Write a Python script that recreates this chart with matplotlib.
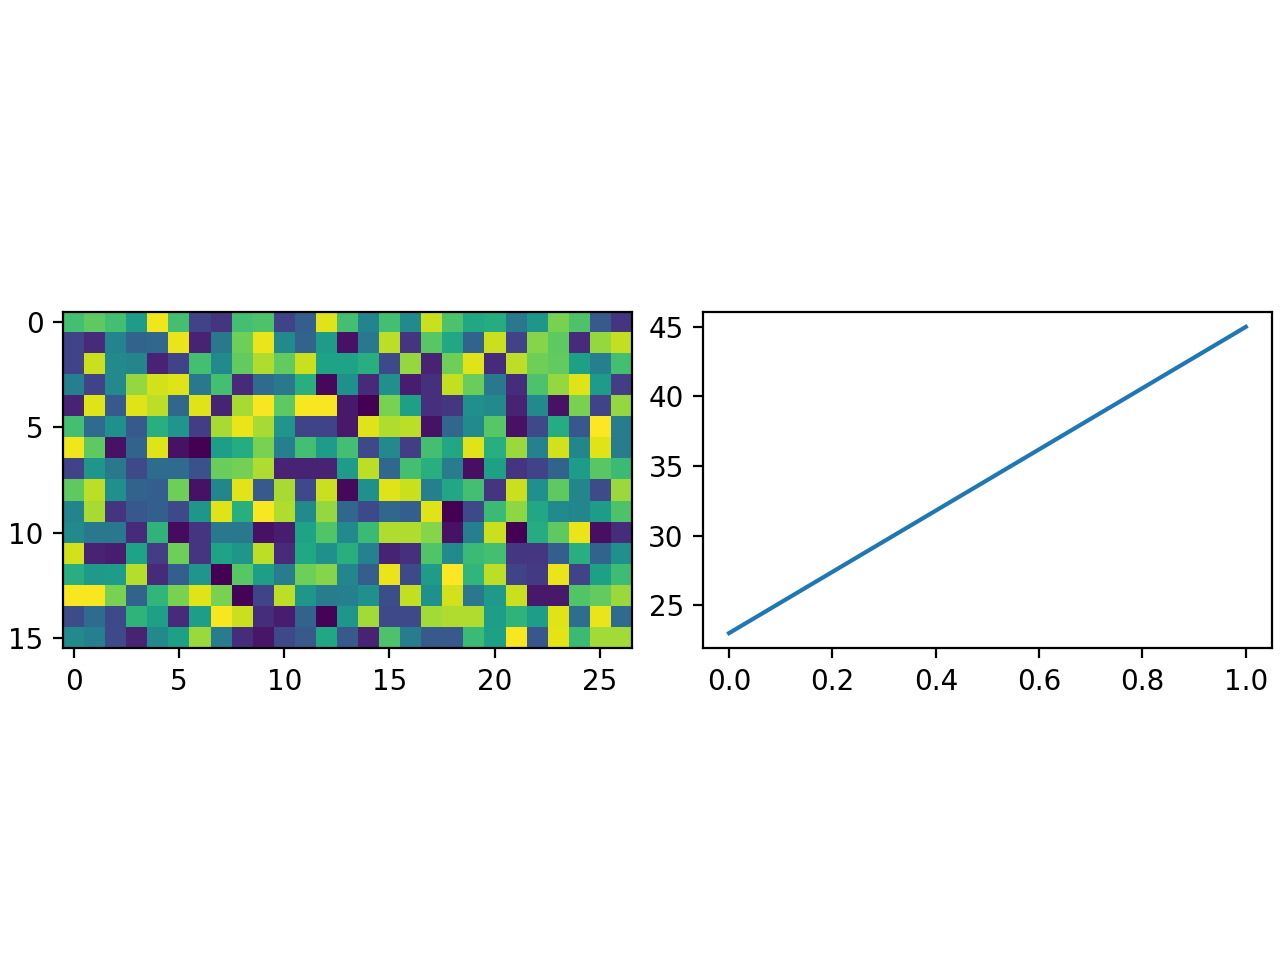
import numpy as np
import matplotlib
matplotlib.use("Agg")
import matplotlib.pyplot as plt

# 16 x 27 grid of values (viridis scale 0..1)
row00 = [0.70, 0.75, 0.70, 0.55, 0.98, 0.70, 0.20, 0.15, 0.70, 0.72, 0.20, 0.30, 0.95, 0.70, 0.45, 0.70, 0.48, 0.92, 0.72, 0.60, 0.62, 0.40, 0.53, 0.80, 0.72, 0.28, 0.15]
row01 = [0.20, 0.12, 0.45, 0.32, 0.33, 0.97, 0.10, 0.40, 0.78, 0.97, 0.48, 0.32, 0.55, 0.05, 0.40, 0.90, 0.15, 0.74, 0.60, 0.32, 0.92, 0.20, 0.82, 0.75, 0.12, 0.84, 0.91]
row02 = [0.20, 0.92, 0.47, 0.46, 0.10, 0.20, 0.70, 0.48, 0.76, 0.88, 0.76, 0.92, 0.58, 0.58, 0.63, 0.22, 0.84, 0.10, 0.78, 0.95, 0.12, 0.90, 0.78, 0.76, 0.57, 0.43, 0.70]
row03 = [0.43, 0.20, 0.47, 0.84, 0.93, 0.95, 0.40, 0.70, 0.12, 0.35, 0.40, 0.63, 0.02, 0.50, 0.12, 0.50, 0.08, 0.14, 0.91, 0.77, 0.40, 0.13, 0.72, 0.84, 0.95, 0.55, 0.18]
row04 = [0.10, 0.95, 0.28, 0.95, 0.90, 0.33, 0.95, 0.10, 0.87, 0.99, 0.75, 0.99, 0.99, 0.07, 0.00, 0.80, 0.57, 0.14, 0.16, 0.50, 0.47, 0.10, 0.48, 0.05, 0.80, 0.20, 0.84]
row05 = [0.70, 0.35, 0.50, 0.28, 0.63, 0.52, 0.18, 0.87, 0.97, 0.87, 0.52, 0.20, 0.20, 0.07, 0.95, 0.88, 0.90, 0.05, 0.33, 0.48, 0.74, 0.05, 0.22, 0.62, 0.27, 1.00, 0.42]
row06 = [0.98, 0.75, 0.05, 0.32, 0.95, 0.05, 0.00, 0.56, 0.62, 0.80, 0.43, 0.70, 0.55, 0.70, 0.22, 0.47, 0.18, 0.70, 0.60, 0.95, 0.63, 0.85, 0.44, 0.93, 0.46, 0.95, 0.42]
row07 = [0.20, 0.52, 0.40, 0.22, 0.35, 0.35, 0.25, 0.77, 0.79, 0.88, 0.10, 0.10, 0.10, 0.55, 0.90, 0.33, 0.70, 0.63, 0.42, 0.04, 0.57, 0.15, 0.20, 0.32, 0.55, 0.74, 0.68]
row08 = [0.75, 0.90, 0.50, 0.32, 0.30, 0.78, 0.05, 0.46, 0.96, 0.28, 0.87, 0.22, 0.92, 0.02, 0.50, 0.95, 0.92, 0.43, 0.60, 0.70, 0.15, 0.92, 0.50, 0.75, 0.46, 0.23, 0.85]
row09 = [0.45, 0.87, 0.15, 0.27, 0.30, 0.22, 0.52, 0.95, 0.63, 0.99, 0.88, 0.48, 0.84, 0.33, 0.22, 0.33, 0.30, 0.95, 0.00, 0.22, 0.68, 0.83, 0.60, 0.48, 0.46, 0.55, 0.72]
row10 = [0.48, 0.40, 0.40, 0.12, 0.65, 0.03, 0.15, 0.40, 0.40, 0.05, 0.08, 0.58, 0.73, 0.48, 0.68, 0.88, 0.88, 0.82, 0.05, 0.43, 0.92, 0.00, 0.62, 0.75, 0.97, 0.04, 0.13]
row11 = [0.93, 0.10, 0.08, 0.58, 0.18, 0.78, 0.15, 0.58, 0.52, 0.90, 0.12, 0.60, 0.50, 0.63, 0.44, 0.10, 0.14, 0.73, 0.47, 0.68, 0.70, 0.16, 0.16, 0.30, 0.63, 0.32, 0.50]
row12 = [0.63, 0.54, 0.55, 0.89, 0.12, 0.30, 0.52, 0.00, 0.74, 0.56, 0.42, 0.78, 0.82, 0.46, 0.30, 0.97, 0.22, 0.55, 1.00, 0.66, 0.90, 0.20, 0.17, 0.97, 0.20, 0.57, 0.69]
row13 = [0.99, 0.99, 0.80, 0.32, 0.66, 0.80, 0.95, 0.80, 0.01, 0.20, 0.90, 0.53, 0.42, 0.43, 0.50, 0.24, 0.91, 0.50, 0.93, 0.40, 0.54, 0.92, 0.07, 0.07, 0.73, 0.76, 0.85]
row14 = [0.23, 0.35, 0.22, 0.65, 0.57, 0.12, 0.56, 0.99, 0.92, 0.13, 0.08, 0.32, 0.01, 0.53, 0.86, 0.22, 0.22, 0.86, 0.88, 0.88, 0.56, 0.65, 0.56, 0.95, 0.36, 0.97, 0.35]
row15 = [0.48, 0.43, 0.22, 0.10, 0.47, 0.57, 0.85, 0.42, 0.13, 0.06, 0.22, 0.28, 0.60, 0.28, 0.10, 0.72, 0.42, 0.28, 0.28, 0.68, 0.57, 0.99, 0.27, 0.96, 0.68, 0.86, 0.86]

line_values = [23, 45]

im = np.array([row00, row01, row02, row03, row04, row05, row06, row07,
               row08, row09, row10, row11, row12, row13, row14, row15])

fig, (ax, ax2) = plt.subplots(ncols=2, figsize=(6.4, 4.8), dpi=200,
                              constrained_layout=True)
ax.imshow(im, cmap="viridis")
ax2.plot(line_values)
ax2.set_box_aspect(im.shape[0] / im.shape[1])

fig.savefig("out.png", dpi=200)
